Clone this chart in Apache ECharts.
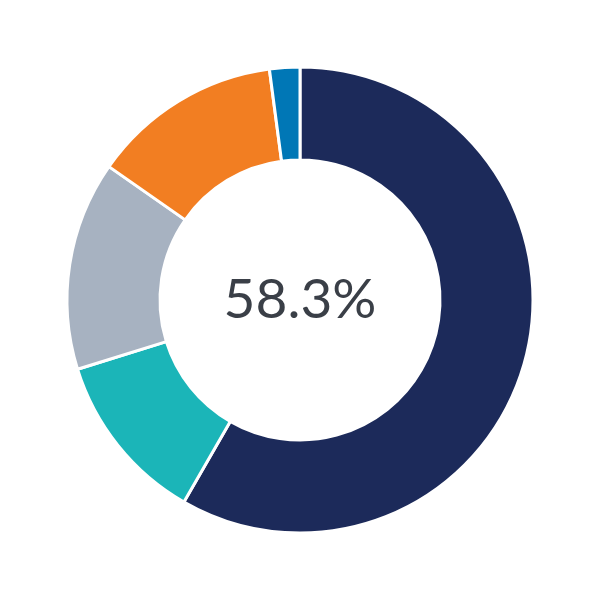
<!DOCTYPE html>
<html>
  <head>
    <meta charset="utf-8">
    <title>ECharts</title>
    <style type="text/css">
    html,body{margin:0;padding:0;background:#fff;}
    #donut{width:600px;height:600px;}
    </style>
    <script src="https://cdn.jsdelivr.net/npm/echarts@6/dist/echarts.min.js"></script>
  </head>
  <body>
    <div id="donut"></div>
    <script type="text/javascript">
      // slices, clockwise from 12 o'clock
      var names = ['A', 'B', 'C', 'D', 'E'];
      var values = [58.3, 11.9, 14.5, 13.2, 2.1];
      var colors = ['#1c2a5a', '#1bb5b8', '#a7b2c1', '#f27e22', '#0077b6'];
      var centerLabel = '58.3%';

      var chart = echarts.init(document.getElementById('donut'));
      var data = values.map(function (v, i) {
        return { name: names[i], value: v, itemStyle: { color: colors[i] } };
      });
      chart.setOption({
        animation: false,
        title: {
          text: centerLabel,
          left: 'center',
          top: 'middle',
          textStyle: {
            fontFamily: 'Lato',
            fontWeight: 'normal',
            fontSize: 55,
            color: '#3a3f47'
          }
        },
        series: [{
          type: 'pie',
          center: [300, 300],
          radius: [140, 233],
          startAngle: 90,
          clockwise: true,
          label: { show: false },
          labelLine: { show: false },
          itemStyle: { borderColor: '#fff', borderWidth: 3 },
          data: data
        }]
      });
    </script>
  </body>
</html>
